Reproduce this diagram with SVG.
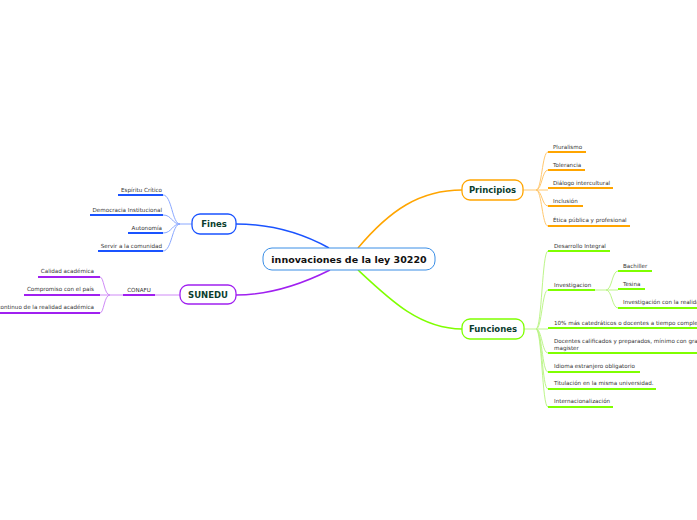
<svg xmlns="http://www.w3.org/2000/svg" width="697" height="520" viewBox="0 0 697 520">
<style>
text{font-family:"DejaVu Sans","Liberation Sans",sans-serif;fill:#333}
.l{font-size:5.6px}
.m{font-size:8.5px;font-weight:bold;fill:#0b3d2e;text-anchor:middle}
.c{fill:none;stroke-width:1}
.u{stroke-width:2}
</style>
<rect width="697" height="520" fill="#fff"/>
<g id="connectors" fill="none">
<path d="M329,248 C300,232 270,224 236,224" stroke="#1a53ff" stroke-width="1.5"/>
<path d="M330,270 C300,285 270,295 236,295" stroke="#a020f0" stroke-width="1.5"/>
<path d="M358,248 C390,210 420,190 462,190" stroke="#ffa500" stroke-width="1.5"/>
<path d="M358,270 C390,300 420,329 462,329" stroke="#7fff00" stroke-width="1.5"/>
<g stroke="#8aa8ff" class="c">
<path d="M192,224 H180 C172,224 172,195 163,195"/><path d="M180,224 C172,224 172,215 163,215"/><path d="M180,224 C172,224 172,233 163,233"/><path d="M180,224 C172,224 172,251 163,251"/>
</g>
<g stroke="#a020f0" class="u"><line x1="118" y1="195" x2="163" y2="195"/><line x1="90" y1="215" x2="163" y2="215"/><line x1="128" y1="233" x2="163" y2="233"/><line x1="98" y1="251" x2="163" y2="251"/></g>
<g stroke="#cf8af7" class="c">
<path d="M180,295 H155"/><path d="M123,295 H110 C104,295 104,277 100,277"/><path d="M110,295 H100"/><path d="M110,295 C104,295 104,313 100,313"/>
</g>
<g stroke="#a020f0" class="u"><line x1="123" y1="295" x2="155" y2="295"/><line x1="38" y1="277" x2="100" y2="277"/><line x1="24" y1="295" x2="100" y2="295"/><line x1="0" y1="313" x2="100" y2="313"/></g>
<g stroke="#ffc870" class="c">
<path d="M523,190 H536 C542,190 542,152 548,152"/><path d="M536,190 C542,190 542,170 548,170"/><path d="M536,190 H548"/><path d="M536,190 C542,190 542,206 548,206"/><path d="M536,190 C542,190 542,226 548,226"/>
</g>
<g stroke="#ffa500" class="u"><line x1="548" y1="152" x2="586" y2="152"/><line x1="548" y1="170" x2="585" y2="170"/><line x1="548" y1="188" x2="613" y2="188"/><line x1="548" y1="206" x2="583" y2="206"/><line x1="548" y1="226" x2="630" y2="226"/></g>
<g stroke="#bdf58a" class="c">
<path d="M524,329 H536 C542,329 542,251 548,251"/><path d="M536,329 C542,329 542,290 548,290"/><path d="M536,329 H548"/><path d="M536,329 C542,329 542,353 548,353"/><path d="M536,329 C542,329 542,372 548,372"/><path d="M536,329 C542,329 542,389 548,389"/><path d="M536,329 C542,329 542,407 548,407"/>
<path d="M595,290 H606 C612,290 612,271 618,271"/><path d="M606,290 H618"/><path d="M606,290 C612,290 612,308 618,308"/>
</g>
<g stroke="#7fff00" class="u"><line x1="548" y1="251" x2="610" y2="251"/><line x1="548" y1="290" x2="595" y2="290"/><line x1="618" y1="271" x2="652" y2="271"/><line x1="618" y1="289" x2="645" y2="289"/><line x1="618" y1="308" x2="697" y2="308"/><line x1="548" y1="328" x2="697" y2="328"/><line x1="548" y1="353" x2="697" y2="353"/><line x1="548" y1="372" x2="640" y2="372"/><line x1="548" y1="389" x2="656" y2="389"/><line x1="548" y1="407" x2="613" y2="407"/></g>
</g>
<g stroke="#1a53ff" stroke-width="2"><line x1="118" y1="195" x2="163" y2="195"/><line x1="90" y1="215" x2="163" y2="215"/><line x1="128" y1="233" x2="163" y2="233"/><line x1="98" y1="251" x2="163" y2="251"/></g>
<g id="central"><rect x="263" y="248" width="172" height="22" rx="9" fill="#fff" stroke="#3a8ee6" stroke-width="1"/><text x="349" y="263" text-anchor="middle" font-size="9.5" font-weight="bold" style="fill:#111">innovaciones de la ley 30220</text></g>
<g id="fines"><rect x="192" y="214" width="44" height="20" rx="8" fill="#fff" stroke="#1a53ff" stroke-width="1.3"/><text class="m" x="214" y="227">Fines</text>
<g class="l" text-anchor="end"><text class="l" x="162" y="192" text-anchor="end">Espíritu Crítico</text><text class="l" x="162" y="212" text-anchor="end">Democracia Institucional</text><text class="l" x="162" y="230" text-anchor="end">Autonomía</text><text class="l" x="162" y="248" text-anchor="end">Servir a la comunidad</text></g></g>
<g id="sunedu"><rect x="180" y="285" width="56" height="19" rx="8" fill="#fff" stroke="#a020f0" stroke-width="1.3"/><text class="m" x="208" y="298">SUNEDU</text>
<text class="l" x="139" y="292" text-anchor="middle">CONAFU</text>
<text class="l" x="94" y="273" text-anchor="end">Calidad académica</text><text class="l" x="94" y="291" text-anchor="end">Compromiso con el país</text><text class="l" x="94" y="309" text-anchor="end">Mejoramiento continuo de la realidad académica</text></g>
<g id="principios"><rect x="462" y="180" width="61" height="20" rx="8" fill="#fff" stroke="#ffa500" stroke-width="1.3"/><text class="m" x="492.5" y="193">Principios</text>
<text class="l" x="553" y="149">Pluralismo</text><text class="l" x="553" y="167">Tolerancia</text><text class="l" x="553" y="185">Diálogo intercultural</text><text class="l" x="553" y="203">Inclusión</text><text class="l" x="553" y="222">Ética pública y profesional</text></g>
<g id="funciones"><rect x="462" y="319" width="62" height="20" rx="8" fill="#fff" stroke="#7fff00" stroke-width="1.3"/><text class="m" x="493" y="332">Funciones</text>
<text class="l" x="554" y="248">Desarrollo Integral</text><text class="l" x="554" y="287">Investigacion</text><text class="l" x="623" y="268">Bachiller</text><text class="l" x="623" y="286">Tesina</text><text class="l" x="623" y="304">Investigación con la realidad</text>
<text class="l" x="554" y="325">10% más catedráticos o docentes a tiempo completo</text><text class="l" x="554" y="343">Docentes calificados y preparados, mínimo con grado de</text><text class="l" x="554" y="350">magister</text>
<text class="l" x="554" y="368">Idioma estranjero obligatorio</text><text class="l" x="554" y="385">Titulación en la misma universidad.</text><text class="l" x="554" y="403">Internacionalización</text></g>
</svg>
